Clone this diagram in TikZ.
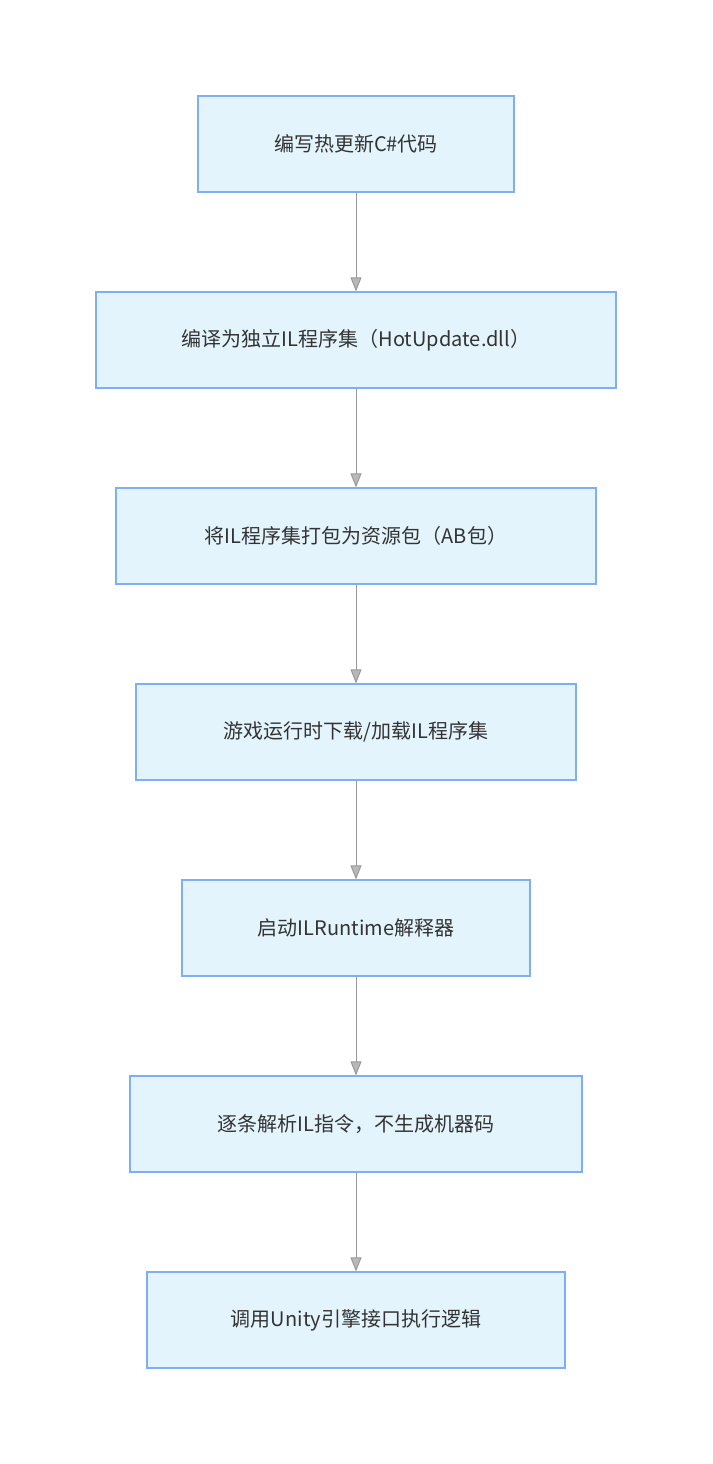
\documentclass[tikz,border=0pt]{standalone}
\usepackage{fontspec}
\setmainfont{Noto Sans CJK SC}
\usetikzlibrary{arrows.meta}
\definecolor{boxfill}{HTML}{E3F4FD}
\definecolor{boxline}{HTML}{7EAEF5}
\definecolor{arr}{HTML}{999999}
\definecolor{txt}{HTML}{333333}
\begin{document}
\begin{tikzpicture}[x=1pt,y=-1pt,
  box/.style={draw=boxline,fill=boxfill,line width=1.2pt,text=txt,font=\fontsize{20}{24}\selectfont,inner sep=0pt},
  conn/.style={draw=arr,line width=1pt,-{Triangle[length=14pt,width=11pt,fill=arr!70]}}]
\useasboundingbox[fill=white] (0,0) rectangle (712,1464);
\newcommand{\bx}[6]{\node[box,minimum width=#4-#2,minimum height=#5-#3] (#1) at ({(#2+#4)/2},{(#3+#5)/2}) {#6};}
\bx{a}{198}{96}{514}{192}{编写热更新C\#代码}
\bx{b}{96}{292}{616}{388}{编译为独立IL程序集（HotUpdate.dll）}
\bx{c}{116}{488}{596}{584}{将IL程序集打包为资源包（AB包）}
\bx{d}{136}{684}{576}{780}{游戏运行时下载/加载IL程序集}
\bx{e}{182}{880}{530}{976}{启动ILRuntime解释器}
\bx{f}{130}{1076}{582}{1172}{逐条解析IL指令，不生成机器码}
\bx{g}{147}{1272}{565}{1368}{调用Unity引擎接口执行逻辑}
\foreach \u/\v in {a/b,b/c,c/d,d/e,e/f,f/g} \draw[conn] (\u) -- (\v);
\end{tikzpicture}
\end{document}
